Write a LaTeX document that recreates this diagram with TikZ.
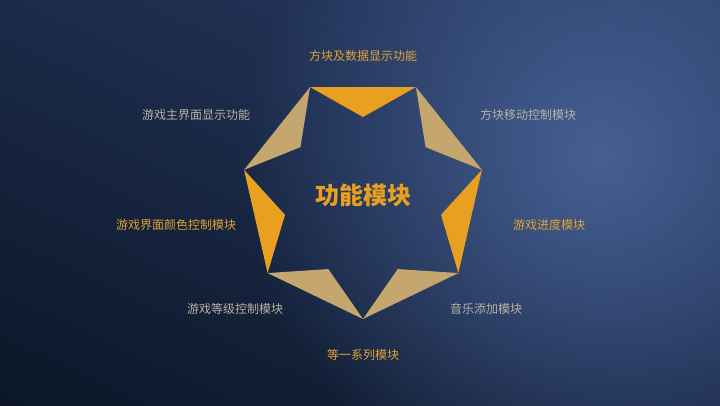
\documentclass[tikz,border=0pt]{standalone}
\usepackage{fontspec}
\usetikzlibrary{fadings}
\newfontfamily\cjk{Noto Sans CJK SC}
\definecolor{bgtop}{RGB}{40,60,102}
\definecolor{bgbottom}{RGB}{11,21,38}
\definecolor{bgglow}{RGB}{70,96,148}
\definecolor{starorange}{RGB}{233,160,32}
\definecolor{startan}{RGB}{196,166,110}
\definecolor{lblgold}{RGB}{224,162,52}
\definecolor{lblgray}{RGB}{184,178,162}
\tikzfading[name=glowfade, inner color=transparent!0, outer color=transparent!100]
\begin{document}
\begin{tikzpicture}[x=1pt,y=1pt,
  lbl/.style={font=\cjk\fontsize{12}{14}\selectfont, inner sep=0pt},
  gold/.style={lbl, text=lblgold},
  gray/.style={lbl, text=lblgray}]
\useasboundingbox (0,0) rectangle (720,405);
\begin{scope}
\clip (0,0) rectangle (720,405);
\fill[top color=bgtop, bottom color=bgbottom, shading angle=-25] (-100,-100) rectangle (820,505);
\fill[bgglow, path fading=glowfade] (600,250) circle (360);
\end{scope}
\begin{scope}[shift={(363,208)}]
\coordinate (o1) at (-90:122);
\coordinate (o2) at (-38.57:122);
\coordinate (o3) at (12.86:122);
\coordinate (o4) at (64.29:122);
\coordinate (o5) at (115.71:122);
\coordinate (o6) at (167.14:122);
\coordinate (o7) at (218.57:122);
\coordinate (i1) at (-64.29:80);
\coordinate (i2) at (-12.86:80);
\coordinate (i3) at (38.57:80);
\coordinate (i4) at (90:80);
\coordinate (i5) at (141.43:80);
\coordinate (i6) at (192.86:80);
\coordinate (i7) at (244.29:80);
\end{scope}
\fill[starorange] (o4) -- (i4) -- (o5) -- cycle;
\fill[startan] (o3) -- (i3) -- (o4) -- cycle;
\fill[starorange] (o2) -- (i2) -- (o3) -- cycle;
\fill[startan] (o1) -- (i1) -- (o2) -- cycle;
\fill[startan] (o7) -- (i7) -- (o1) -- cycle;
\fill[starorange] (o6) -- (i6) -- (o7) -- cycle;
\fill[startan] (o5) -- (i5) -- (o6) -- cycle;
\node [lbl, text=starorange, font=\cjk\bfseries\fontsize{24}{28}\selectfont] (core) at (363,210) {功能模块};
\node [gold] (blockshow) at (363,349) {方块及数据显示功能};
\node [gray] (mainshow) at (196,290) {游戏主界面显示功能};
\node [gray] (blockmove) at (528,290) {方块移动控制模块};
\node [gold] (colorctrl) at (176,180) {游戏界面颜色控制模块};
\node [gold] (progress) at (549,180) {游戏进度模块};
\node [gray] (levelctrl) at (235,96) {游戏等级控制模块};
\node [gray] (music) at (486,96) {音乐添加模块};
\node [gold] (others) at (363,50) {等一系列模块};
\end{tikzpicture}
\end{document}
